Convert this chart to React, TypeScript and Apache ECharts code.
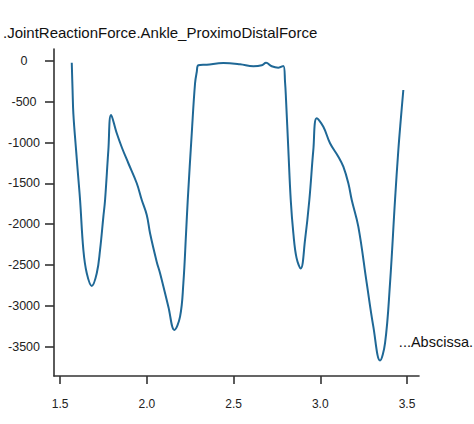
import { useEffect, useRef } from "react";
import * as echarts from "echarts";

// time (s) and force (N)
const times = [
  1.5674, 1.572, 1.5767, 1.5922, 1.6037, 1.6153, 1.6343, 1.6539, 1.6827, 1.7115,
  1.7305, 1.7496, 1.7594, 1.7784, 1.7939, 1.8268, 1.8573, 1.8937, 1.9421, 1.9709,
  1.9997, 2.0187, 2.0573, 2.0764, 2.1242, 2.1588, 2.1916, 2.2107, 2.2262, 2.236,
  2.2591, 2.2781, 2.2879, 2.2971, 2.3455, 2.4412, 2.5375, 2.6141, 2.6625, 2.6873,
  2.7202, 2.7582, 2.787, 2.7968, 2.8026, 2.8159, 2.8297, 2.8447, 2.8631, 2.8873,
  2.9121, 2.9369, 2.9599, 2.9795, 3.0176, 3.0562, 3.104, 3.1329, 3.1617, 3.1813,
  3.2193, 3.2677, 3.3058, 3.3444, 3.3732, 3.402, 3.4308, 3.4499, 3.4654, 3.4787,
];
const forces = [
  -21, -355, -649, -1090, -1397, -1703, -2315, -2601, -2756, -2601,
  -2315, -1907, -1703, -1090, -662, -886, -1066, -1253, -1498, -1703,
  -1887, -2111, -2462, -2601, -3010, -3295, -3132, -2723, -2111, -1703,
  -886, -273, -135, -53, -45, -25, -40, -65, -53, -21,
  -65, -82, -61, -257, -478, -1090, -1703, -2111, -2413, -2542,
  -2193, -1703, -1090, -702, -805, -1008, -1172, -1295, -1498, -1703,
  -2030, -2723, -3255, -3671, -3458, -2723, -1703, -1090, -682, -355,
];
const xTicks = [1.5, 2.0, 2.5, 3.0, 3.5];
const yTicks = [0, -500, -1000, -1500, -2000, -2500, -3000, -3500];

const titleText = ".JointReactionForce.Ankle_ProximoDistalForce";
const xName = "...Abscissa.";

export default function App() {
  const chartRef = useRef<HTMLDivElement>(null);

  useEffect(() => {
    if (!chartRef.current) return;
    const chart = echarts.init(chartRef.current, null, { renderer: "svg" });
    const font = "'Liberation Sans', Arial, sans-serif";

    chart.setOption({
      animation: false,
      backgroundColor: "#ffffff",
      grid: { left: 54, right: 55, top: 49, bottom: 48, containLabel: false },
      xAxis: {
        type: "value",
        min: 1.465,
        max: 3.569,
        splitLine: { show: false },
        axisLine: { onZero: false, lineStyle: { color: "#333", width: 1.6 } },
        axisTick: {
          inside: false,
          length: 8,
          customValues: xTicks,
          lineStyle: { color: "#333", width: 1.6 },
        },
        axisLabel: {
          customValues: xTicks,
          formatter: (v: number) => v.toFixed(1),
          margin: 22,
          color: "#222",
          fontSize: 12,
          fontFamily: font,
        },
      },
      yAxis: {
        type: "value",
        min: -3860,
        max: 147,
        splitLine: { show: false },
        axisLine: { show: true, onZero: false, lineStyle: { color: "#333", width: 1.6 } },
        axisTick: {
          show: true,
          length: 9,
          customValues: yTicks,
          lineStyle: { color: "#333", width: 1.6 },
        },
        axisLabel: {
          customValues: yTicks,
          formatter: (v: number) => String(v),
          align: "center",
          margin: 30,
          color: "#222",
          fontSize: 12.5,
          fontFamily: font,
        },
      },
      graphic: [
        {
          type: "text",
          x: 3,
          y: 32,
          style: {
            text: titleText,
            fontSize: 15,
            fontFamily: font,
            fill: "#111",
            verticalAlign: "middle",
          },
        },
        {
          type: "text",
          x: 473,
          y: 342,
          style: {
            text: xName,
            fontSize: 14.5,
            fontFamily: font,
            fill: "#111",
            align: "right",
            verticalAlign: "middle",
          },
        },
      ],
      series: [
        {
          type: "line",
          data: times.map((t, i) => [t, forces[i]]),
          showSymbol: false,
          smooth: 0.4,
          lineStyle: { color: "#1f6896", width: 2 },
        },
      ],
    });

    return () => chart.dispose();
  }, []);

  return (
    <div
      ref={chartRef}
      style={{ position: "fixed", left: 0, top: 0, width: 474, height: 424 }}
    />
  );
}
